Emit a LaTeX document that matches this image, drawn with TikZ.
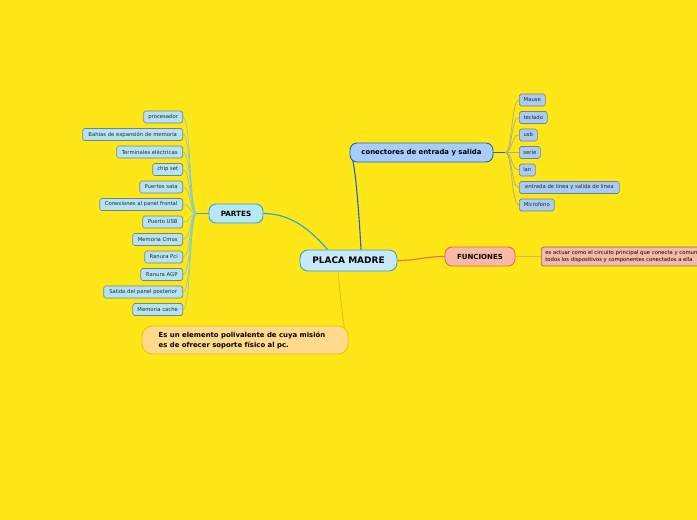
\documentclass[tikz,border=0pt]{standalone}
\usepackage{fontspec}
\setmainfont{DejaVu Sans}
\usetikzlibrary{calc}
\pgfdeclarelayer{back}
\pgfsetlayers{back,main}
\definecolor{bg}{HTML}{FFE617}
\definecolor{pmfill}{HTML}{C6EAFA}
\definecolor{pmdraw}{HTML}{3A9AD4}
\definecolor{ptfill}{HTML}{B6E8F8}
\definecolor{ptdraw}{HTML}{28A8DC}
\definecolor{cnfill}{HTML}{A8CDF8}
\definecolor{cndraw}{HTML}{1D64C8}
\definecolor{fnfill}{HTML}{F8B9A6}
\definecolor{fndraw}{HTML}{F26A3C}
\definecolor{dsfill}{HTML}{FFDA8A}
\definecolor{dsdraw}{HTML}{F7BC10}
\definecolor{lfillL}{HTML}{B4E4F4}
\definecolor{lfillR}{HTML}{A9CCF4}
\definecolor{ldraw}{HTML}{6F8490}
\definecolor{fanL}{HTML}{86CDBE}
\definecolor{fanR}{HTML}{A9B27A}
\definecolor{dtdraw}{HTML}{8C6E58}
\definecolor{dtline}{HTML}{F7A860}
\tikzset{
  leafL/.style={draw=ldraw, fill=lfillL, line width=0.6pt, rounded corners=1.8pt, minimum height=12pt, inner sep=0pt, anchor=east, font=\fontsize{5.3}{6}\selectfont, text=black!85},
  leafR/.style={draw=ldraw, fill=lfillR, line width=0.6pt, rounded corners=1.8pt, minimum height=12pt, inner sep=0pt, anchor=west, font=\fontsize{5.3}{6}\selectfont, text=black!85},
  fanl/.style={draw=fanL, line width=0.7pt},
  fanr/.style={draw=fanR, line width=0.7pt},
}
\begin{document}
\begin{tikzpicture}[x=1pt,y=-1pt]
\useasboundingbox (0,0) rectangle (697,520);
\clip (0,0) rectangle (697,520);
% main nodes
\node[draw=pmdraw, fill=pmfill, line width=0.9pt, rounded corners=8pt, minimum width=97pt, minimum height=21pt, inner sep=0pt, font=\bfseries\fontsize{9}{10}\selectfont] (pm) at (348.5,260.5) {PLACA MADRE};
\node[draw=ptdraw, fill=ptfill, line width=0.9pt, rounded corners=7pt, minimum width=54pt, minimum height=19pt, inner sep=0pt, font=\bfseries\fontsize{7.2}{8}\selectfont] (pt) at (236,213.5) {PARTES};
\node[draw=cndraw, fill=cnfill, line width=0.9pt, rounded corners=7pt, minimum width=143pt, minimum height=19pt, inner sep=0pt, font=\bfseries\fontsize{6.9}{8}\selectfont] (cn) at (421.5,152.5) {conectores de entrada y salida};
\node[draw=fndraw, fill=fnfill, line width=0.9pt, rounded corners=7pt, minimum width=70pt, minimum height=19pt, inner sep=0pt, font=\bfseries\fontsize{7}{8}\selectfont] (fn) at (480,256.5) {FUNCIONES};
\node[draw=dsdraw, fill=dsfill, line width=0.9pt, rounded corners=10pt, minimum width=206pt, minimum height=28pt, inner sep=0pt, font=\bfseries\fontsize{6.9}{10}\selectfont, align=left] (ds) at (245,340) {\hspace*{-6pt}Es un elemento polivalente de cuya misión\\\hspace*{-6pt}es de ofrecer soporte físico al pc.};
\node[draw=dtdraw, fill=fnfill, line width=0.7pt, rounded corners=2.5pt, minimum height=19pt, inner xsep=4pt, inner ysep=0pt, anchor=west, font=\fontsize{5.3}{6.2}\selectfont, align=left] (dt) at (541,256.5) {es actuar como el circuito principal que conecta y comunica\\todos los dispositivos y componentes conectados a ella\hspace*{30pt}};
% hubs
\coordinate (hl) at ($(pt.west)+(-12,0)$);
\coordinate (hr) at ($(cn.east)+(12,0)$);
% left leaves
\node[leafL, minimum width=39pt] (l1) at (183,117) {procesador};
\node[leafL, minimum width=100pt] (l2) at (183,134.5) {Bahias de expansión de memoria};
\node[leafL, minimum width=66pt] (l3) at (183,152) {Terminales eléctricas};
\node[leafL, minimum width=30pt] (l4) at (183,169.5) {chip set};
\node[leafL, minimum width=43pt] (l5) at (183,187) {Puertos sata};
\node[leafL, minimum width=83pt] (l6) at (183,204.5) {Conexiones al panel frontal};
\node[leafL, minimum width=40pt] (l7) at (183,222) {Puerto USB};
\node[leafL, minimum width=50pt] (l8) at (183,239.5) {Memoria Cmos};
\node[leafL, minimum width=38pt] (l9) at (183,257) {Ranura Pci};
\node[leafL, minimum width=42pt] (l10) at (183,274.5) {Ranura AGP};
\node[leafL, minimum width=79pt] (l11) at (183,292) {Salida del panel posterior};
\node[leafL, minimum width=50pt] (l12) at (183,309.5) {Memoria cache};
% right leaves
\node[leafR, minimum width=26pt] (r1) at (519,100) {Mause};
\node[leafR, minimum width=28pt] (r2) at (519,117.5) {teclado};
\node[leafR, minimum width=18pt] (r3) at (519,135) {usb};
\node[leafR, minimum width=21pt] (r4) at (519,152.5) {serie};
\node[leafR, minimum width=16pt] (r5) at (519,170) {lan};
\node[leafR, minimum width=100pt] (r6) at (519,187.5) {entrada de linea y salida de linea};
\node[leafR, minimum width=35pt] (r7) at (519,205) {Microfono};
\begin{pgfonlayer}{back}
\fill[bg] (0,0) rectangle (697,520);
% fans
\foreach \n in {l1,l2,l3,l4,l5,l6,l7,l8,l9,l10,l11,l12}{
  \draw[fanl] (\n.east) .. controls ($(\n.east)+(8,0)$) and ($(hl)+(-7,0)$) .. (hl);
}
\foreach \n in {r1,r2,r3,r4,r5,r6,r7}{
  \draw[fanr] (\n.west) .. controls ($(\n.west)+(-8,0)$) and ($(hr)+(7,0)$) .. (hr);
}
\draw[draw=ptdraw, line width=1.2pt] (pt.west) -- (hl);
\draw[draw=cndraw, line width=1.2pt] (cn.east) -- (hr);
% main branches
\draw[draw=ptdraw, line width=1.2pt] ($(pm.north)+(-21,0)$) .. controls ($(pm.north)+(-35,-16)$) and ($(pt.east)+(30,0)$) .. (pt.east);
\draw[draw=cndraw, line width=1.1pt] ($(pm.north)+(12.5,0)$) .. controls ($(pm.north)+(10,-45)$) and ($(cn.south west)+(6,10)$) .. ($(cn.south west)+(3,-3)$);
\draw[draw=fndraw, line width=1.1pt] (pm.east) .. controls ($(pm.east)+(20,0)$) and ($(fn.west)+(-20,0)$) .. (fn.west);
\draw[draw=dtline, line width=0.6pt] (fn.east) -- (dt.west);
\draw[draw=dsdraw, line width=1pt] ($(pm.south)+(-10.5,0)$) .. controls ($(pm.south)+(-8,30)$) and ($(ds.north east)+(-6,-15)$) .. ($(ds.north east)+(-4,5)$);
\end{pgfonlayer}
\end{tikzpicture}
\end{document}
